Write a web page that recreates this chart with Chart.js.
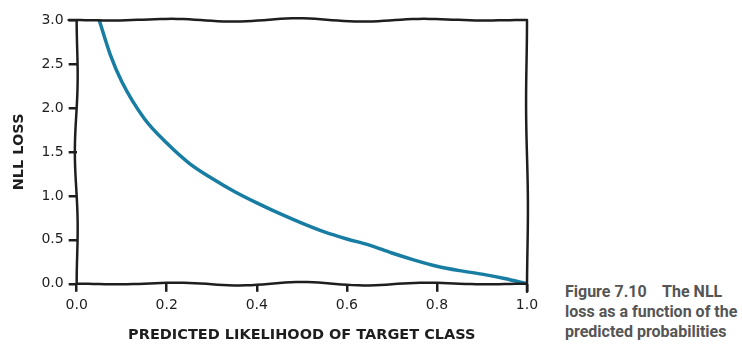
<!DOCTYPE html>
<html>
<head>
<meta charset="utf-8">
<script src="https://cdn.jsdelivr.net/npm/chart.js@4/dist/chart.umd.min.js"></script>
<style>
  html, body { margin: 0; padding: 0; background: #fff; }
  #wrap { position: relative; width: 742px; height: 347px; }
  #box { position: absolute; left: 0; top: 0; width: 560px; height: 347px; }
  #caption {
    position: absolute; left: 565px; top: 282px; width: 177px;
    font-family: "Roboto", sans-serif;
    font-weight: bold; font-size: 16px; line-height: 20px; color: #555;
  }
</style>
</head>
<body>
<div id="wrap">
  <div id="box"><canvas id="nll-chart"></canvas></div>
  <div id="caption">Figure 7.10&nbsp;&nbsp;&nbsp; The NLL<br>loss as a function of the<br>predicted probabilities</div>
</div>
<script>
// predicted likelihood vs NLL loss
var likelihood = [0.05, 0.075, 0.1, 0.15, 0.2, 0.25, 0.3, 0.35, 0.4, 0.45, 0.5, 0.55, 0.6, 0.65, 0.7, 0.75, 0.8, 0.85, 0.9, 0.95, 1.0];
var nllLoss = [3.0, 2.6, 2.3, 1.88, 1.6, 1.37, 1.2, 1.05, 0.92, 0.8, 0.69, 0.59, 0.51, 0.44, 0.35, 0.27, 0.2, 0.15, 0.11, 0.06, 0.0];
var xTicks = [0.0, 0.2, 0.4, 0.6, 0.8, 1.0];
var yTicks = [0.0, 0.5, 1.0, 1.5, 2.0, 2.5, 3.0];

var points = likelihood.map(function (x, i) { return { x: x, y: nllLoss[i] }; });

var ink = '#1e1e1e';
var tickFont = { family: 'DejaVu Sans', size: 14 };
var titleFont = { family: 'DejaVu Sans', size: 14.5, weight: 'bold' };

// hand-drawn looking box around the plot (slightly wavy edges)
function wavyLine(c, x0, y0, x1, y1, amp, waves) {
    var n = 80, dx = x1 - x0, dy = y1 - y0, len = Math.sqrt(dx * dx + dy * dy);
    var nx = -dy / len, ny = dx / len;
    c.moveTo(x0, y0);
    for (var i = 1; i <= n; i++) {
        var t = i / n, w = amp * Math.sin(t * Math.PI * 2 * waves) * Math.sin(t * Math.PI);
        c.lineTo(x0 + dx * t + nx * w, y0 + dy * t + ny * w);
    }
}

var frame = {
    id: 'frame',
    afterDraw: function (chart) {
        var a = chart.chartArea, c = chart.ctx;
        c.save();
        c.strokeStyle = ink;
        c.lineWidth = 2.5;
        c.lineCap = 'round';
        c.lineJoin = 'round';
        c.beginPath();
        wavyLine(c, a.left, a.bottom, a.right, a.bottom, 1.8, 3.5);
        wavyLine(c, a.left, a.bottom, a.left, a.top, 1.8, 1.5);
        wavyLine(c, a.left - 8, a.top, a.right, a.top, 1.8, 3.5);
        wavyLine(c, a.right, a.top, a.right, a.bottom + 8, 1.2, 1);
        c.stroke();
        c.restore();
    }
};

var ctx = document.getElementById('nll-chart').getContext('2d');
var chart = new Chart(ctx, {
    type: 'line',
    data: {
        datasets: [{
            data: points,
            borderColor: '#187da3',
            borderWidth: 3.5,
            pointRadius: 0,
            cubicInterpolationMode: 'monotone',
            fill: false,
            clip: 2
        }]
    },
    options: {
        responsive: true,
        maintainAspectRatio: false,
        animation: false,
        layout: { padding: { top: 20, right: 33, left: 11, bottom: 3 } },
        plugins: { legend: { display: false }, tooltip: { enabled: false } },
        scales: {
            x: {
                type: 'linear', min: 0, max: 1,
                afterBuildTicks: function (axis) { axis.ticks = xTicks.map(function (v) { return { value: v }; }); },
                ticks: { color: ink, font: tickFont, padding: 5, callback: function (v) { return v.toFixed(1); } },
                grid: { drawOnChartArea: false, drawTicks: true, tickLength: 8, color: ink, lineWidth: 2.5 },
                border: { display: false },
                title: { display: true, text: 'PREDICTED LIKELIHOOD OF TARGET CLASS', color: ink, font: titleFont, padding: { top: 8, bottom: 0 } }
            },
            y: {
                type: 'linear', min: 0, max: 3,
                afterBuildTicks: function (axis) { axis.ticks = yTicks.map(function (v) { return { value: v }; }); },
                ticks: { color: ink, font: tickFont, padding: 5, callback: function (v) { return v.toFixed(1); } },
                grid: { drawOnChartArea: false, drawTicks: true, tickLength: 8, color: ink, lineWidth: 2.5 },
                border: { display: false },
                title: { display: true, text: 'NLL LOSS', color: ink, font: titleFont, padding: { top: 0, bottom: 8 } }
            }
        }
    },
    plugins: [frame]
});
</script>
</body>
</html>
